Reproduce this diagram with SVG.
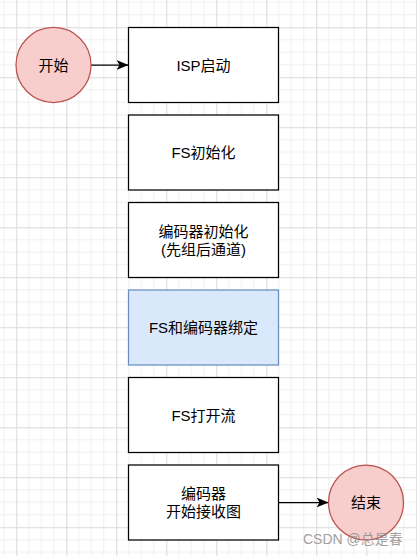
<svg xmlns="http://www.w3.org/2000/svg" width="417" height="556" viewBox="0 0 417 556">
<defs>
<pattern id="grid" patternUnits="userSpaceOnUse" x="16.25" y="27.25" width="50" height="50">
<path d="M12.5 0V50M25 0V50M37.5 0V50M0 12.5H50M0 25H50M0 37.5H50" stroke="#f0f0f0" stroke-width="1" fill="none"/>
<path d="M0.5 0V50M0 0.5H50" stroke="#d9d9d9" stroke-width="1" fill="none"/>
</pattern>
<marker id="arr" markerUnits="userSpaceOnUse" viewBox="0 0 12 10" refX="12" refY="5" markerWidth="12" markerHeight="10" orient="auto">
<path d="M0 0L12 5L0 10L3 5Z" fill="#000"/>
</marker>
</defs>
<style>
.box{fill:#fff;stroke:#000;stroke-width:1.25}
.blue{fill:#dae8fc;stroke:#6c8ebf;stroke-width:1.25}
.circ{fill:#f8cecc;stroke:#b85450;stroke-width:1.25}
.t{font-family:"Liberation Sans","Noto Sans CJK SC",sans-serif;font-size:15px;fill:#000;text-anchor:middle;dominant-baseline:central}
.edge{stroke:#000;stroke-width:1.25;fill:none}
.wm{font-family:"Liberation Sans","Noto Sans CJK SC",sans-serif;font-size:14px;fill:#8a8a8a;opacity:0.8}
</style>
<rect width="417" height="556" fill="#fff"/>
<rect width="417" height="556" fill="url(#grid)"/>
<g id="connectors">
<path class="edge" d="M91 65H128.5" marker-end="url(#arr)"/>
<path class="edge" d="M279 502.5H328.5" marker-end="url(#arr)"/>
</g>
<g id="start"><circle class="circ" cx="53.5" cy="65" r="37.5"/><text class="t" x="53.5" y="65">开始</text></g>
<g id="isp"><rect class="box" x="128.5" y="27.5" width="150" height="75"/><text class="t" x="203.5" y="65">ISP启动</text></g>
<g id="fsinit"><rect class="box" x="128.5" y="115" width="150" height="75"/><text class="t" x="203.5" y="152.5">FS初始化</text></g>
<g id="encinit"><rect class="box" x="128.5" y="202.5" width="150" height="75"/><text class="t" x="203.5" y="231">编码器初始化</text><text class="t" x="203.5" y="249">(先组后通道)</text></g>
<g id="bind"><rect class="blue" x="128.5" y="290" width="150" height="75"/><text class="t" x="203.5" y="327.5">FS和编码器绑定</text></g>
<g id="stream"><rect class="box" x="128.5" y="377.5" width="150" height="75"/><text class="t" x="203.5" y="415">FS打开流</text></g>
<g id="recv"><rect class="box" x="128.5" y="465" width="150" height="75"/><text class="t" x="203.5" y="493.5">编码器</text><text class="t" x="203.5" y="511.5">开始接收图</text></g>
<g id="end"><circle class="circ" cx="366" cy="502.5" r="37.5"/><text class="t" x="366" y="502.5">结束</text></g>
<text class="wm" x="303" y="544">CSDN @总是春</text>
</svg>
